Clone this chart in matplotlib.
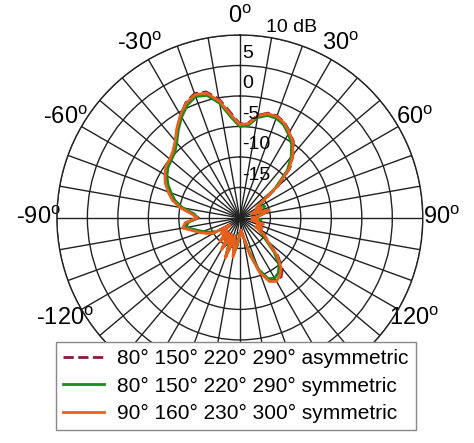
import numpy as np
import matplotlib
matplotlib.use("Agg")
import matplotlib.pyplot as plt
from matplotlib.transforms import offset_copy

plt.rcParams['font.family'] = ['Liberation Sans', 'DejaVu Sans']
plt.rcParams['mathtext.fontset'] = 'custom'
plt.rcParams['mathtext.rm'] = 'Liberation Sans'

angles_deg = list(range(-180, 180, 5))
orange_db = [-17, -16, -13.5, -17, -13, -17, -14, -17, -15, -17, -16, -18, -15, -14, -13, -12,
             -10.5, -11, -13, -12, -10, -8.5, -7.5, -6.5, -5.8, -5.2, -5, -4.5, -3.5, -2, -0.5, 0.8,
             1.5, 1.2, -0.5, -3, -4.7, -4.5, -3, -2.3, -2.3, -2.8, -3.8, -4.8, -6.5, -8.5, -12, -16,
             -17, -16, -18, -15, -16, -17, -18, -17, -18, -16, -17, -16, -17, -15, -14, -11.5, -9.5, -8.5,
             -8, -8.5, -10.5, -14, -17, -18]
green_db = [-17.5, -15.5, -14, -16.5, -13.5, -16, -14.5, -16.5, -15.5, -17, -16.5, -17.5, -15.5, -14.5, -13.5, -12.5,
            -11, -11.5, -13, -12.5, -10.5, -9, -8, -7, -6.2, -5.6, -5.3, -4.9, -3.9, -2.4, -0.9, 0.4,
            1.2, 0.8, -0.9, -3.4, -5, -4.8, -3.3, -2.6, -2.6, -3.1, -4.1, -5.2, -6.9, -9, -12.5, -16,
            -16.5, -15.5, -17, -15.5, -16.5, -17, -17.5, -16.5, -17.5, -16.5, -17, -16, -16.5, -15.5, -14.5, -12, -10, -9,
            -8.6, -9, -11, -14.5, -17, -17.5]
red_db = [-17, -16, -13.8, -16.8, -13.2, -16.5, -14.2, -16.8, -15.2, -17, -16.2, -17.8, -15.2, -14.2, -13.2, -12.2,
          -10.6, -11.2, -13.2, -12.2, -10.2, -8.6, -7.6, -6.6, -5.9, -5.3, -5.1, -4.6, -3.6, -2.1, -0.6, 0.9,
          1.7, 1.4, -0.2, -2.7, -4.6, -4.4, -2.9, -2.2, -2.2, -2.7, -3.7, -4.7, -6.4, -8.4, -11.8, -15.8,
          -17, -16, -17.8, -15.2, -16.2, -17, -17.8, -17, -17.8, -16.2, -17, -16.2, -17, -15.2, -14, -11.2, -9.2, -8.2,
          -8.3, -8.8, -10.8, -14, -17, -18]
series_labels = ["80° 150° 220° 290° asymmetric",
                 "80° 150° 220° 290° symmetric",
                 "90° 160° 230° 300° symmetric"]
ring_values = [-15, -10, -5, 0, 5]

th = np.deg2rad(angles_deg + [angles_deg[0] + 360])
def closed(v):
    return v + [v[0]]

fig = plt.figure(figsize=(4.74, 4.43), dpi=100)
ax = fig.add_axes([0.120, 0.095, 0.772, 0.826], projection='polar')
ax.set_theta_zero_location('N')
ax.set_theta_direction(-1)
ax.set_ylim(-20, 10)
ax.set_yticks([-15, -10, -5, 0, 5, 10])
ax.set_yticklabels([])
grid_t = list(range(0, 360, 10))
lbls = []
for t in grid_t:
    a = t if t <= 180 else t - 360
    lbls.append(f"{a}$^{{\\rm o}}$" if (a % 30 == 0 and abs(a) <= 120) else "")
ax.set_thetagrids(grid_t, lbls, fontsize=17)
ax.tick_params(axis='x', pad=3)
ax.grid(True, color='#222222', linewidth=1.0)
ax.spines['polar'].set_linewidth(1.0)
ax.spines['polar'].set_color('#222222')

l1, = ax.plot(th, closed(red_db), color='#8B1A3A', linestyle='--', linewidth=2, zorder=3)
l2, = ax.plot(th, closed(green_db), color='#1A8A1A', linewidth=2, zorder=4)
l3, = ax.plot(th, closed(orange_db), color='#E8601C', linewidth=2, zorder=5)

tr = offset_copy(ax.transData, fig=fig, x=2, y=0, units='points')
for v in ring_values:
    ax.text(0, v + 2, str(v), transform=tr, ha='left', va='center', fontsize=14, zorder=6)
tr2 = offset_copy(ax.transData, fig=fig, x=19, y=0, units='points')
ax.text(0, 11.3, "10 dB", transform=tr2, ha='left', va='center', fontsize=14, clip_on=False)

leg = fig.legend([l1, l2, l3], series_labels, loc='lower center', bbox_to_anchor=(0.497, 0.005),
                 fontsize=15, fancybox=False, edgecolor='#888888', framealpha=1,
                 handlelength=2.0, handletextpad=0.6, borderpad=0.35, labelspacing=0.4)
leg.get_frame().set_linewidth(1.0)
fig.savefig("out.png", dpi=100)
